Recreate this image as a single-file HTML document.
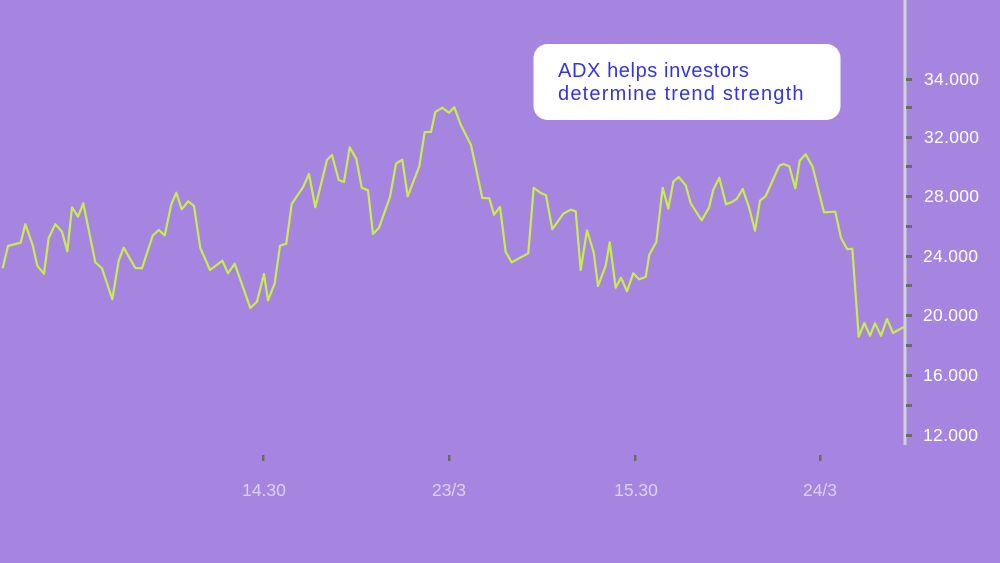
<!DOCTYPE html>
<html><head><meta charset="utf-8"><style>
html,body{margin:0;padding:0;background:#a585e0;}
svg{display:block;}
</style></head><body>
<svg width="1000" height="563" viewBox="0 0 1000 563" xmlns="http://www.w3.org/2000/svg">
<rect width="1000" height="563" fill="#a585e0"/>
<rect x="533.5" y="44" width="307" height="76" rx="14" fill="#ffffff"/>
<text x="558" y="77" font-family="Liberation Sans, sans-serif" font-size="20" letter-spacing="0.6" fill="#3434e6">ADX helps investors</text>
<text x="558" y="100" font-family="Liberation Sans, sans-serif" font-size="20" letter-spacing="1.2" fill="#3434e6">determine trend strength</text>
<polyline fill="none" stroke="#c8ee4e" stroke-width="2.2" stroke-linejoin="round" points="
2.7,268.3 8,246 20.7,242.7 25.3,224.3 32.7,245.3 37.3,265.7 44,273.7 48.7,238 55.3,224.3 62,231.7 67.3,251.3 72,207.3 78,216.7 83.3,203.3 95.3,262.3 102,268.3 112.3,299.3 118.7,260.7 123.7,247.7 135.3,268 142,268.3 152.7,235.7 158.7,230 164.7,235.3 171.3,204.3 176.3,192.7 181.7,209.3 188.3,201.3 194,206 200.3,248 210,270 222.3,260.7 228,273.3 234.7,263.7 250.3,308 257,301.7 264,274 268,300.3 274.7,283.3 280,245.7 286.3,243.7 291.7,204 303,187.3 309,174 315.3,207.3 327,160 332,155 338.7,180 344,182 349.7,147.3 356.3,158.7 361.7,187.7 368,190.3 373,234 379,227.7 390,197 396,163.7 402.3,159.7 407.7,196.3 419.3,166.3 424.7,132 431,132 435.3,112 442.3,107.7 449,112.7 454.3,107.3 460.7,124.7 471,145 482.3,198 489.3,198.3 494,214.7 500,207 505.7,252 511.7,262.3 528.3,253.3 533.7,187.7 540.7,193 546,195.3 552.3,229.3 563.3,213.7 570.7,209.7 575.7,211.3 580.7,270 587,230.3 593.7,252.3 598,286 605.7,265.7 609.7,242.3 615.7,287.7 621,277.7 627,291.3 633.3,273.3 639,279.3 645.7,277 649.3,254.7 656.3,242 662.7,187.7 668.3,208.7 673.3,181.7 678.7,177 685.7,185.3 690.7,203.3 701.7,220.3 709,207.7 713.3,189.7 719.3,177.7 726,204.3 732,202 737,198.7 742.7,189 749,207.3 755,230.7 760,200.7 765.7,196 779.3,165.7 783.7,164 789.3,166.3 795.3,188.3 799.7,160.7 805.7,154.3 812.7,167 824,212.3 835.3,211.7 841,238 847.3,249.3 852.3,248.7 858.7,336.7 864.3,323 870,335.7 875,323.3 881,335.7 887,319 893,333 900,329 904,327"/>
<rect x="903.5" y="0" width="3" height="445" fill="#d2d2d2"/>
<g fill="#6a6a6a">
<rect x="906" y="78" width="6" height="3"/><rect x="906" y="106" width="6" height="3"/>
<rect x="906" y="136" width="6" height="3"/><rect x="906" y="165" width="6" height="3"/>
<rect x="906" y="195" width="6" height="3"/><rect x="906" y="225" width="6" height="3"/>
<rect x="906" y="255" width="6" height="3"/><rect x="906" y="284" width="6" height="3"/>
<rect x="906" y="314" width="6" height="3"/><rect x="906" y="344" width="6" height="3"/>
<rect x="906" y="374" width="6" height="3"/><rect x="906" y="404" width="6" height="3"/>
<rect x="906" y="434" width="6" height="3"/>
<rect x="262" y="455" width="2.5" height="6"/><rect x="448" y="455" width="2.5" height="6"/>
<rect x="634" y="455" width="2.5" height="6"/><rect x="819" y="455" width="2.5" height="6"/>
</g>
<g font-family="Liberation Sans, sans-serif" font-size="17.5" fill="#ffffff" letter-spacing="0.3">
<text x="924" y="85">34.000</text>
<text x="924" y="143">32.000</text>
<text x="924" y="202">28.000</text>
<text x="923" y="262">24.000</text>
<text x="923" y="321">20.000</text>
<text x="923" y="381">16.000</text>
<text x="923" y="441">12.000</text>
</g>
<g font-family="Liberation Sans, sans-serif" font-size="17.5" fill="#ddd0f6" text-anchor="middle">
<text x="264" y="496">14.30</text>
<text x="449" y="496">23/3</text>
<text x="636" y="496">15.30</text>
<text x="820" y="496">24/3</text>
</g>
</svg>
</body></html>
